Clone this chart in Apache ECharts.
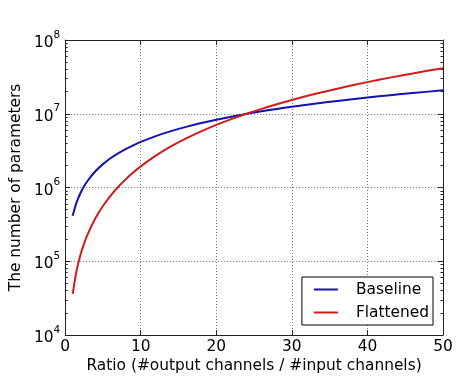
<!DOCTYPE html>
<html>
<head>
<meta charset="utf-8">
<script src="https://cdn.jsdelivr.net/npm/echarts@6/dist/echarts.min.js"></script>
<style>html,body{margin:0;padding:0;background:#fff;}#c{width:474px;height:380px;}</style>
</head>
<body>
<div id="c"></div>
<script>
// Data
const ratios = [1, 1.5, 2, 2.5, 3, 4, 5, 6, 7, 8, 9, 10, 12, 14, 16, 18, 20, 22, 24, 26, 28, 30, 33, 36, 40, 43, 46, 50];
const baselineValues = [415000, 622500, 830000, 1037500, 1245000, 1660000, 2075000, 2490000, 2905000, 3320000, 3735000, 4150000, 4980000, 5810000, 6640000, 7470000, 8300000, 9130000, 9960000, 10790000, 11620000, 12450000, 13695000, 14940000, 16600000, 17845000, 19090000, 20750000];
const flattenedValues = [36000, 73900, 119800, 173600, 235300, 382600, 561700, 772500, 1015100, 1289500, 1595700, 1933600, 2704700, 3602900, 4628200, 5780500, 7059900, 8466400, 10000000, 11660600, 13448300, 15363100, 18473500, 21869900, 26843100, 30906500, 35255900, 41499800];
const seriesNames = ['Baseline', 'Flattened'];
const xTicks = [0, 10, 20, 30, 40, 50];
const yMajorTicks = [1e4, 1e5, 1e6, 1e7, 1e8];
const minorMultipliers = [2, 3, 4, 5, 6, 7, 8, 9];

const yMinorTicks = [];
yMajorTicks.slice(0, -1).forEach(d => minorMultipliers.forEach(m => yMinorTicks.push(d * m)));

const font = 'DejaVu Sans';
const fs = 15.4;
const frameColor = '#222';

function pairs(ys) { return ratios.map((x, i) => [x, ys[i]]); }

const yBase = {
  type: 'log', min: 1e4, max: 1e8, logBase: 10, gridIndex: 0
};

const chart = echarts.init(document.getElementById('c'), null, {renderer: 'canvas'});
chart.setOption({
  animation: false,
  backgroundColor: '#fff',
  textStyle: {fontFamily: font},
  grid: {left: 61, right: 31, top: 40, bottom: 45, containLabel: false},
  legend: {
    data: seriesNames,
    orient: 'vertical',
    right: 41,
    bottom: 55,
    borderColor: '#000',
    borderWidth: 1,
    borderRadius: 0,
    backgroundColor: '#fff',
    padding: [5, 4, 5, 12],
    itemGap: 8,
    itemWidth: 24,
    itemHeight: 2,
    icon: 'rect',
    textStyle: {fontFamily: font, fontSize: fs, color: '#000', padding: [0, 0, 0, 13]}
  },
  xAxis: [
    {
      type: 'value', min: 0, max: 50, interval: 10, position: 'bottom',
      name: 'Ratio (#output channels / #input channels)',
      nameLocation: 'middle', nameGap: 20,
      nameTextStyle: {fontFamily: font, fontSize: fs, color: '#000'},
      axisLine: {show: true, lineStyle: {color: frameColor, width: 1}},
      axisTick: {show: true, inside: true, length: 5, lineStyle: {color: frameColor}},
      axisLabel: {fontFamily: font, fontSize: fs, color: '#000', margin: 4,
        customValues: xTicks},
      splitLine: {show: true, lineStyle: {color: '#777', type: [1, 2], width: 1}}
    },
    {
      type: 'value', min: 0, max: 50, interval: 10, position: 'top',
      axisLine: {show: true, lineStyle: {color: frameColor, width: 1}},
      axisTick: {show: true, inside: true, length: 5, lineStyle: {color: frameColor}},
      axisLabel: {show: false},
      splitLine: {show: false}
    }
  ],
  yAxis: [
    Object.assign({}, yBase, {
      position: 'left',
      name: 'The number of parameters',
      nameLocation: 'middle', nameGap: 31,
      nameTextStyle: {fontFamily: font, fontSize: fs, color: '#000'},
      axisLine: {show: true, lineStyle: {color: frameColor, width: 1}},
      axisTick: {show: true, inside: true, length: 5, lineStyle: {color: frameColor}},
      axisLabel: {
        margin: 5,
        formatter: v => '{b|10}{e|' + Math.round(Math.log10(v)) + '}',
        rich: {
          b: {fontFamily: font, fontSize: fs, color: '#000', verticalAlign: 'bottom', lineHeight: 21},
          e: {fontFamily: font, fontSize: 10.5, color: '#000', verticalAlign: 'top', lineHeight: 12}
        }
      },
      splitLine: {show: true, lineStyle: {color: '#777', type: [1, 2], width: 1}}
    }),
    Object.assign({}, yBase, {
      position: 'left',
      axisLine: {show: false},
      axisTick: {show: true, inside: true, length: 2.5, customValues: yMinorTicks, lineStyle: {color: frameColor}},
      axisLabel: {show: false},
      splitLine: {show: false}
    }),
    Object.assign({}, yBase, {
      position: 'right',
      axisLine: {show: true, lineStyle: {color: frameColor, width: 1}},
      axisTick: {show: true, inside: true, length: 5, lineStyle: {color: frameColor}},
      axisLabel: {show: false},
      splitLine: {show: false}
    }),
    Object.assign({}, yBase, {
      position: 'right',
      axisLine: {show: false},
      axisTick: {show: true, inside: true, length: 2.5, customValues: yMinorTicks, lineStyle: {color: frameColor}},
      axisLabel: {show: false},
      splitLine: {show: false}
    })
  ],
  series: [
    {
      name: seriesNames[0], type: 'line', xAxisIndex: 0, yAxisIndex: 0,
      data: pairs(baselineValues), showSymbol: false, symbol: 'none', smooth: 0.3,
      lineStyle: {color: '#1212b0', width: 2}, itemStyle: {color: '#1212b0'}
    },
    {
      name: seriesNames[1], type: 'line', xAxisIndex: 0, yAxisIndex: 0,
      data: pairs(flattenedValues), showSymbol: false, symbol: 'none', smooth: 0.3,
      lineStyle: {color: '#d21c1c', width: 2}, itemStyle: {color: '#d21c1c'}
    }
  ]
});
</script>
</body>
</html>
